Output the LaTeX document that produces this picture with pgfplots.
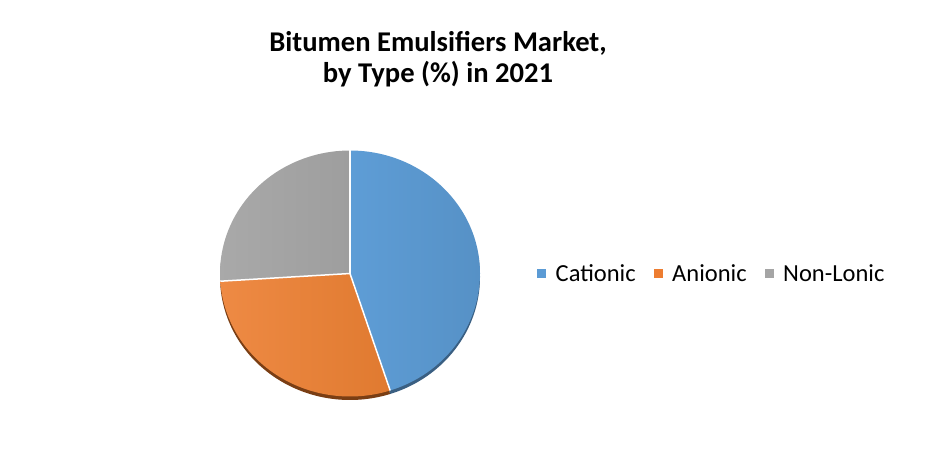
\documentclass[border=0pt]{standalone}
\usepackage{pgfplots}
\pgfplotsset{compat=1.18}
\usepackage{pgfplotstable}
\usepackage{fontspec}
\setmainfont{Carlito}

\definecolor{cblueL}{HTML}{5E9DD6}
\definecolor{cblueD}{HTML}{5691C6}
\definecolor{cblueS}{HTML}{3A5F82}
\definecolor{corangeL}{HTML}{EE8A44}
\definecolor{corangeD}{HTML}{E07A30}
\definecolor{corangeS}{HTML}{7A3E14}
\definecolor{cgrayL}{HTML}{A9A9A9}
\definecolor{cgrayD}{HTML}{9E9E9E}
\definecolor{cgrayS}{HTML}{5A5A5A}
\definecolor{cblue}{HTML}{5B9BD5}
\definecolor{corange}{HTML}{ED7D31}
\definecolor{cgray}{HTML}{A5A5A5}

\pgfplotstableread{
label value color
Cationic 45 cblue
Anionic 29 corange
Non-Lonic 26 cgray
}\piedata

\newcommand\pieCX{350}
\newcommand\pieCY{174.5}

% mode: 0 shadow, 1 fill, 2 borders
\newcommand\drawpie[1]{%
  \gdef\cum{0}%
  \pgfplotstablegetrowsof{\piedata}%
  \pgfmathtruncatemacro\nrows{\pgfplotsretval-1}%
  \foreach \i in {0,...,\nrows}{%
    \pgfplotstablegetelem{\i}{value}\of\piedata \let\pv\pgfplotsretval
    \pgfplotstablegetelem{\i}{color}\of\piedata \let\pcol\pgfplotsretval
    \pgfmathsetmacro\sa{90-3.6*\cum}%
    \pgfmathsetmacro\ea{90-3.6*(\cum+\pv)}%
    \pgfmathsetmacro\newcum{\cum+\pv}%
    \xdef\cum{\newcum}%
    \ifcase#1
      \fill[\pcol S] ([yshift=-3.5bp]axis cs:\pieCX,\pieCY) -- ++(\sa:130bp and 123bp)
        arc[start angle=\sa, end angle=\ea, x radius=130bp, y radius=123bp] -- cycle;
    \or
      \shade[left color=\pcol L, right color=\pcol D] (axis cs:\pieCX,\pieCY) -- ++(\sa:130bp and 123bp)
        arc[start angle=\sa, end angle=\ea, x radius=130bp, y radius=123bp] -- cycle;
    \or
      \draw[white, line width=1.5bp] (axis cs:\pieCX,\pieCY) -- ++(\sa:130bp and 123bp);
    \fi
  }%
}

\begin{document}
\begin{tikzpicture}
\begin{axis}[
  width=940bp, height=448bp, scale only axis,
  xmin=0, xmax=940, ymin=0, ymax=448,
  hide axis,
  clip=false,
  legend columns=3,
  legend style={at={(axis cs:537,174.5)}, anchor=west, draw=none, fill=none,
    font=\fontsize{24.6}{28}\selectfont, inner sep=0pt,
    nodes={inner ysep=0pt, inner xsep=0pt},
    /tikz/every odd column/.append style={column sep=9.5bp},
    /tikz/every even column/.append style={column sep=18bp}},
  legend image code/.code={\fill[#1, draw=none] (0bp,-4.5bp) rectangle (9bp,4.5bp);},
]
\addlegendimage{fill=cblue}
\addlegendentry{Cationic}
\addlegendimage{fill=corange}
\addlegendentry{Anionic}
\addlegendimage{fill=cgray}
\addlegendentry{Non-Lonic}

\path (rel axis cs:0,0) rectangle (rel axis cs:1,1);
\pgfplotsextra{\drawpie{0}\drawpie{1}\drawpie{2}}

\node[anchor=base, font=\bfseries\fontsize{28.7}{32}\selectfont] at (axis cs:438,396.3) {Bitumen Emulsifiers Market,};
\node[anchor=base, font=\bfseries\fontsize{28.7}{32}\selectfont] at (axis cs:438,365) {by Type (\%) in 2021};
\end{axis}
\end{tikzpicture}
\end{document}
